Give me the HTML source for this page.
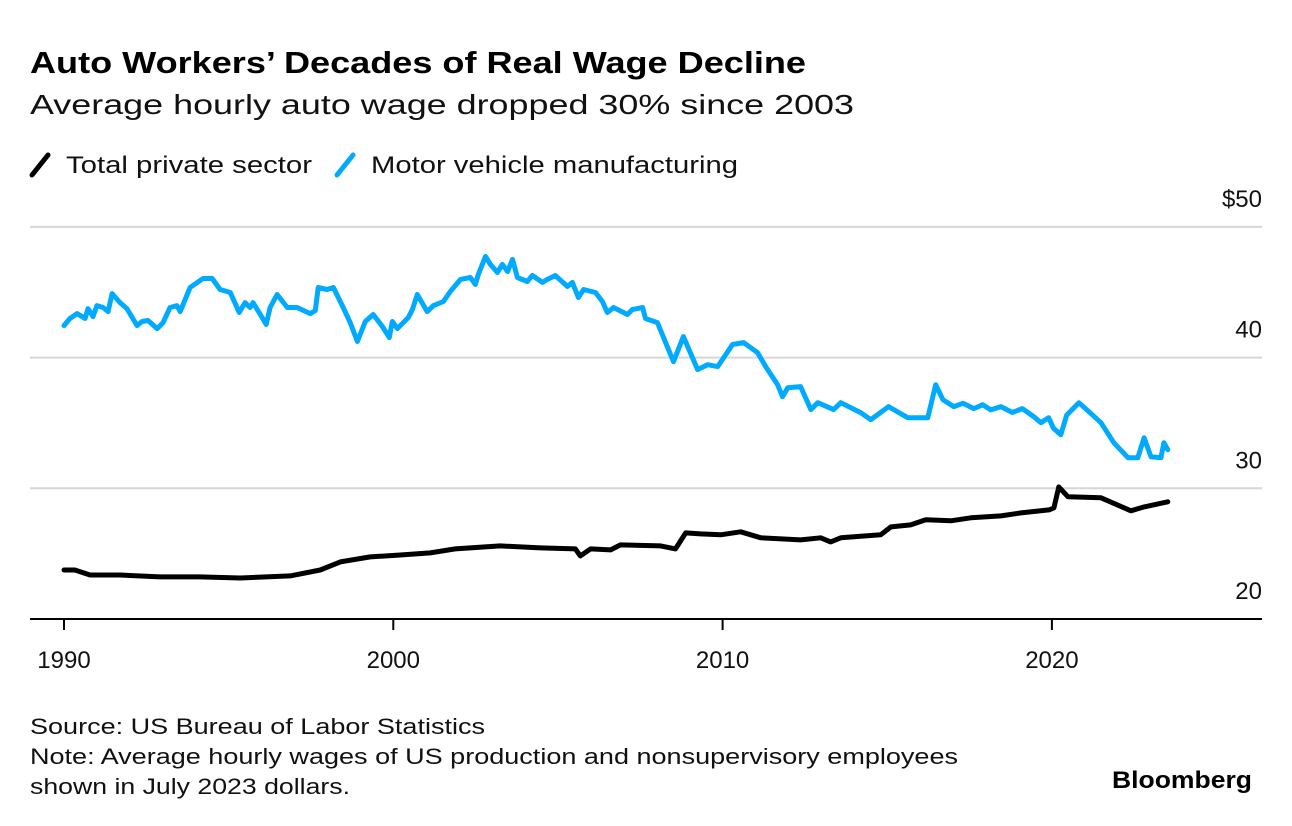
<!DOCTYPE html>
<html><head><meta charset="utf-8"><style>
html,body{margin:0;padding:0;background:#fff;}
svg{display:block;font-family:"Liberation Sans",Arial,sans-serif;}
</style></head><body>
<svg id="chart" width="1292" height="826" viewBox="0 0 1292 826" xmlns="http://www.w3.org/2000/svg">
<text x="30" y="73" font-size="31" font-weight="bold" fill="#000" textLength="776" lengthAdjust="spacingAndGlyphs">Auto Workers’ Decades of Real Wage Decline</text>
<text x="30" y="114" font-size="28" fill="#111" textLength="824" lengthAdjust="spacingAndGlyphs">Average hourly auto wage dropped 30% since 2003</text>
<g>
<line x1="32" y1="175" x2="48" y2="155" stroke="#000" stroke-width="5" stroke-linecap="round"/>
<text x="66" y="173" font-size="24" fill="#111" textLength="246" lengthAdjust="spacingAndGlyphs">Total private sector</text>
<line x1="337" y1="175" x2="353" y2="155" stroke="#00aaff" stroke-width="5" stroke-linecap="round"/>
<text x="371" y="173" font-size="24" fill="#111" textLength="367" lengthAdjust="spacingAndGlyphs">Motor vehicle manufacturing</text>
</g>
<g id="grid"></g>
<g id="series"></g>
<g id="xaxis"></g>
<text x="30" y="734" font-size="22" fill="#111" textLength="455" lengthAdjust="spacingAndGlyphs">Source: US Bureau of Labor Statistics</text>
<text x="30" y="764" font-size="22" fill="#111" textLength="928" lengthAdjust="spacingAndGlyphs">Note: Average hourly wages of US production and nonsupervisory employees</text>
<text x="30" y="794" font-size="22" fill="#111" textLength="320" lengthAdjust="spacingAndGlyphs">shown in July 2023 dollars.</text>
<text x="1112" y="788" font-size="24" font-weight="bold" fill="#000" textLength="140" lengthAdjust="spacingAndGlyphs">Bloomberg</text>
</svg>
<script>
const yTicks=[20,30,40,50];
const yTickLabels=["20","30","40","$50"];
const xTicks=[1990,2000,2010,2020];
const xTickLabels=["1990","2000","2010","2020"];
const motorYears=[1990.0,1990.18,1990.40,1990.64,1990.73,1990.88,1991.00,1991.19,1991.34,1991.46,1991.70,1991.91,1992.22,1992.37,1992.55,1992.83,1993.01,1993.22,1993.43,1993.53,1993.83,1994.22,1994.50,1994.74,1995.05,1995.32,1995.50,1995.65,1995.74,1995.96,1996.14,1996.26,1996.47,1996.78,1997.08,1997.48,1997.63,1997.72,1997.99,1998.18,1998.48,1998.69,1998.91,1999.15,1999.39,1999.67,1999.88,1999.97,2000.12,2000.46,2000.58,2000.73,2001.03,2001.22,2001.52,2001.73,2002.04,2002.34,2002.49,2002.58,2002.80,2002.95,2003.16,2003.31,2003.47,2003.62,2003.77,2004.07,2004.22,2004.53,2004.68,2004.92,2005.29,2005.44,2005.62,2005.78,2006.14,2006.35,2006.50,2006.69,2007.11,2007.26,2007.57,2007.66,2008.02,2008.51,2008.81,2009.24,2009.54,2009.85,2010.30,2010.64,2011.06,2011.31,2011.67,2011.82,2011.98,2012.37,2012.68,2012.89,2013.37,2013.59,2014.19,2014.50,2015.04,2015.62,2016.23,2016.47,2016.69,2017.02,2017.30,2017.63,2017.90,2018.14,2018.45,2018.80,2019.10,2019.45,2019.67,2019.90,2020.05,2020.27,2020.45,2020.82,2021.49,2021.88,2022.31,2022.61,2022.80,2023.01,2023.31,2023.40,2023.52];
const motorWages=[42.45,42.99,43.37,42.99,43.75,43.14,43.98,43.83,43.52,44.90,44.21,43.75,42.45,42.76,42.84,42.22,42.68,43.83,43.98,43.52,45.36,46.05,46.05,45.21,44.98,43.45,44.21,43.83,44.21,43.30,42.53,43.83,44.83,43.83,43.83,43.37,43.60,45.36,45.21,45.36,43.83,42.68,41.23,42.76,43.30,42.38,41.53,42.76,42.22,43.07,43.68,44.83,43.52,43.98,44.29,45.06,45.98,46.13,45.59,46.36,47.74,47.13,46.51,47.13,46.59,47.51,46.13,45.82,46.28,45.75,45.98,46.28,45.44,45.75,44.60,45.21,44.98,44.29,43.45,43.83,43.30,43.68,43.83,42.99,42.68,39.69,41.61,39.08,39.46,39.31,41.00,41.15,40.38,39.31,37.93,37.01,37.70,37.78,36.02,36.55,36.02,36.55,35.79,35.25,36.25,35.40,35.40,37.93,36.78,36.25,36.50,36.10,36.40,36.00,36.25,35.80,36.10,35.48,35.02,35.40,34.60,34.10,35.60,36.55,35.02,33.49,32.34,32.34,33.87,32.41,32.34,33.49,32.95];
const privateYears=[1990.0,1990.33,1990.79,1991.70,1992.92,1994.13,1995.35,1996.87,1997.78,1998.39,1999.30,2000.21,2001.12,2001.88,2003.25,2004.47,2005.53,2005.68,2005.99,2006.60,2006.90,2008.12,2008.57,2008.88,2009.33,2009.94,2010.55,2011.16,2012.37,2012.98,2013.28,2013.59,2014.80,2015.11,2015.71,2016.17,2016.93,2017.54,2018.45,2019.06,2019.91,2020.06,2020.21,2020.49,2021.49,2022.40,2022.80,2023.52];
const privateWages=[23.75,23.75,23.37,23.37,23.22,23.22,23.14,23.30,23.75,24.37,24.75,24.90,25.06,25.36,25.59,25.44,25.36,24.83,25.36,25.29,25.67,25.59,25.36,26.59,26.51,26.44,26.67,26.21,26.05,26.21,25.90,26.21,26.44,27.05,27.20,27.59,27.51,27.74,27.89,28.12,28.35,28.50,30.11,29.35,29.27,28.28,28.58,28.97];

const NS="http://www.w3.org/2000/svg";
const X0=64,PXY=32.93,Y0=619,PXV=13.07;
function xs(y){return X0+(y-1990)*PXY;}
function ys(v){return Y0-(v-20)*PXV;}
function mk(t,a,parent){const e=document.createElementNS(NS,t);for(const k in a)e.setAttribute(k,a[k]);parent.appendChild(e);return e;}
const grid=document.getElementById('grid');
yTicks.forEach((v,i)=>{
  if(v>20){
    const l=mk('line',{x1:30,x2:1262,y1:ys(v),y2:ys(v),stroke:'#d6d6d6','stroke-width':2},grid);
    
    
  }
  const t=mk('text',{x:1262,y:ys(v)-20,'text-anchor':'end','font-size':24,fill:'#111'},grid);
  t.textContent=yTickLabels[i];
  
  
});
const ser=document.getElementById('series');
function path(xa,ya,color,name){
  let d='';xa.forEach((x,i)=>{d+=(i?'L':'M')+xs(x).toFixed(1)+','+ys(ya[i]).toFixed(1);});
  const p=mk('path',{d:d,fill:'none',stroke:color,'stroke-width':5,'stroke-linejoin':'round','stroke-linecap':'round'},ser);
  
  
}
path(motorYears,motorWages,'#00aaff','motor-vehicle-line');
path(privateYears,privateWages,'#000','private-sector-line');
const xa=document.getElementById('xaxis');
const base=mk('line',{x1:30,x2:1262,y1:Y0,y2:Y0,stroke:'#000','stroke-width':2},xa);


xTicks.forEach((yr,i)=>{
  const tk=mk('line',{x1:xs(yr),x2:xs(yr),y1:Y0,y2:Y0+11,stroke:'#000','stroke-width':2},xa);
  
  
  const t=mk('text',{x:xs(yr),y:668,'text-anchor':'middle','font-size':24,fill:'#111'},xa);
  t.textContent=xTickLabels[i];
  
  
});
</script>
</body></html>
